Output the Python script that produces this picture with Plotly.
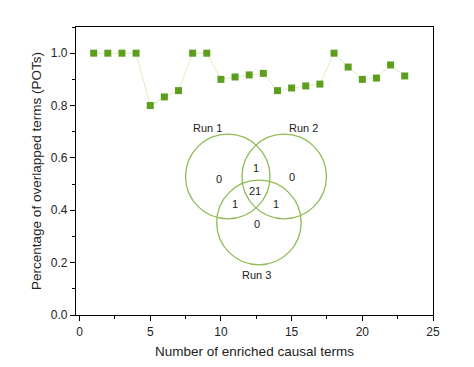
import plotly.graph_objects as go

# ---- data ----
n_terms = list(range(1, 24))
pots = [1.0, 1.0, 1.0, 1.0, 0.80, 0.833, 0.857, 1.0, 1.0, 0.90, 0.909, 0.917,
        0.923, 0.857, 0.867, 0.875, 0.882, 1.0, 0.947, 0.90, 0.905, 0.955, 0.913]

venn_sets = ["Run 1", "Run 2", "Run 3"]
venn_regions = ["only1", "only2", "only3", "12", "13", "23", "123"]
venn_counts = [0, 0, 0, 1, 1, 1, 21]

x_ticks = [0, 5, 10, 15, 20, 25]
y_ticks = [0.0, 0.2, 0.4, 0.6, 0.8, 1.0]

# ---- layout geometry (page pixels -> paper) ----
W, H = 474, 367
BODY = 8  # default body margin of the page
L, R, T, B = 75.5, 433, 27, 315

def px(x):
    return (x - L) / (R - L)

def py(y):
    return (B - y) / (B - T)

fig = go.Figure()
fig.add_trace(go.Scatter(
    x=n_terms, y=pots, mode="lines+markers",
    line=dict(color="#dcefc0", width=1),
    marker=dict(symbol="square", size=7, color="#5e9e1e"),
    showlegend=False,
))

circ_col = "#8fbb52"
circles = {"Run 1": (227.5, 176.5), "Run 2": (284, 176.5), "Run 3": (258.7, 222.5)}
rad = 42.3
shapes = []
for name in venn_sets:
    cx, cy = circles[name]
    shapes.append(dict(type="circle", xref="paper", yref="paper",
                       x0=px(cx - rad), x1=px(cx + rad), y0=py(cy + rad), y1=py(cy - rad),
                       line=dict(color=circ_col, width=1.3)))

label_pos = {"Run 1": (191, 128), "Run 2": (320, 128), "Run 3": (256, 283)}
region_pos = {"only1": (219, 179), "only2": (292, 177), "only3": (257, 232),
              "12": (256, 168), "13": (235, 204), "23": (276, 204), "123": (255, 191)}

annotations = []
for name in venn_sets:
    x, y = label_pos[name]
    annotations.append(dict(x=px(x), y=py(y), xref="paper", yref="paper", text=name,
                            showarrow=False, font=dict(size=11, color="#222")))
for reg, cnt in zip(venn_regions, venn_counts):
    x, y = region_pos[reg]
    annotations.append(dict(x=px(x), y=py(y), xref="paper", yref="paper", text=str(cnt),
                            showarrow=False, font=dict(size=11, color="#222")))

axis_common = dict(showline=True, linecolor="black", linewidth=1.3, mirror=True,
                   ticks="outside", ticklen=5, tickwidth=1.2, tickcolor="black",
                   showgrid=False, zeroline=False, automargin=False,
                   tickfont=dict(size=12, color="#222"))

fig_w, fig_h = W - 2 * BODY, H - 2 * BODY
fig.update_layout(
    width=fig_w, height=fig_h,
    margin=dict(l=L - BODY, r=W - R - BODY, t=T - BODY, b=H - B - BODY, pad=0, autoexpand=False),
    paper_bgcolor="white", plot_bgcolor="white",
    font=dict(family="Liberation Sans, Arial, sans-serif", color="#222"),
    shapes=shapes, annotations=annotations,
    xaxis=dict(range=[-0.25, 25], tickvals=x_ticks,
               minor=dict(dtick=2.5, tick0=0, ticks="outside", ticklen=3, tickcolor="black"),
               title=dict(text="Number of enriched causal terms", font=dict(size=13.5), standoff=11),
               **axis_common),
    yaxis=dict(range=[0, 1.1], tickvals=y_ticks, tickformat=".1f",
               minor=dict(dtick=0.1, tick0=0, ticks="outside", ticklen=3, tickcolor="black"),
               title=dict(text="Percentage of overlapped terms (POTs)", font=dict(size=13.5), standoff=6),
               **axis_common),
)

fig.write_html("out.html")
